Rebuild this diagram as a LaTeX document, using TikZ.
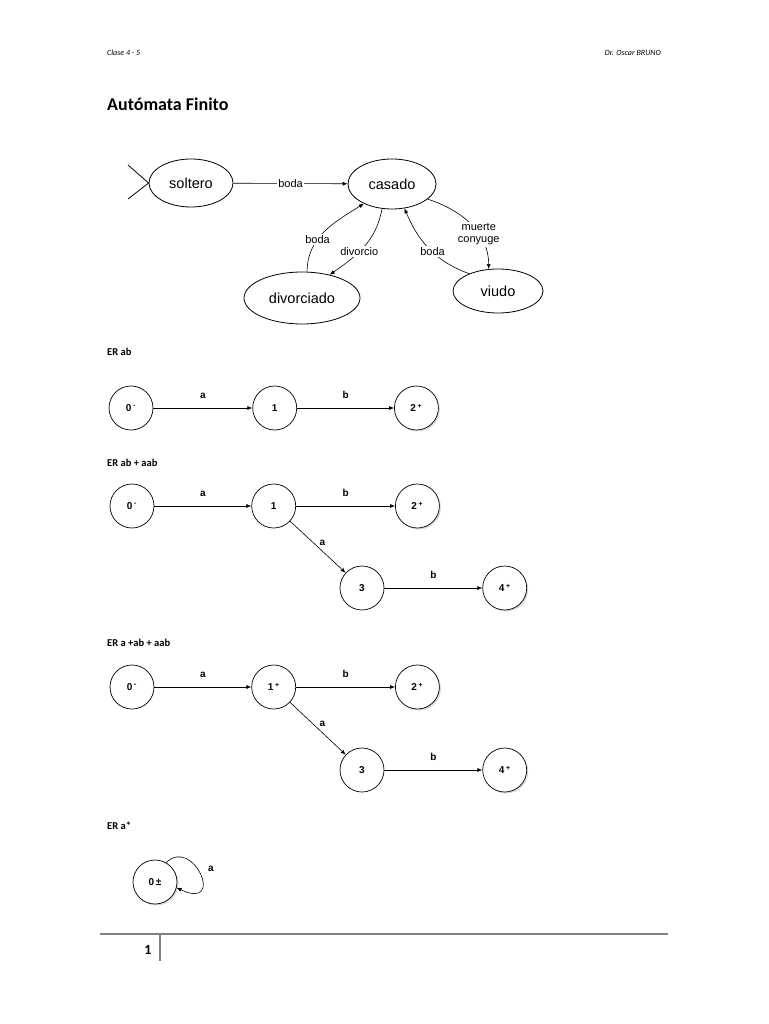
\documentclass[tikz,border=0pt]{standalone}
\usepackage{fontspec}
\setmainfont{Carlito}
\newfontfamily\helv{Liberation Sans}
\usetikzlibrary{positioning,arrows.meta,shapes.geometric,shadows}

\begin{document}
\begin{tikzpicture}[x=1pt, y=1pt,
  estado/.style={ellipse, draw, fill=white, line width=.8pt, inner sep=0pt, font=\helv\fontsize{14.5}{16}\selectfont},
  nodo/.style={circle, draw, fill=white, line width=.7pt, minimum size=44pt, inner sep=0pt, font=\helv\bfseries\fontsize{10}{11}\selectfont},
  final/.style={nodo, drop shadow={shadow xshift=1.5pt, shadow yshift=-1.5pt, opacity=.3}},
  flecha/.style={-{Latex[length=5pt,width=4pt]}, line width=.6pt},
  etq/.style={fill=white, inner sep=1.5pt, align=center, font=\helv\fontsize{11}{12}\selectfont},
  letra/.style={inner sep=0pt, font=\helv\bfseries\fontsize{10}{11}\selectfont},
  titulo/.style={anchor=west, inner sep=0pt, font=\bfseries\fontsize{10.5}{12}\selectfont}
]
  \useasboundingbox (0,0) rectangle (768,-1024);

  % cabecera
  \node[anchor=west, inner sep=0pt, font=\itshape\fontsize{8}{9}\selectfont] (clase) at (107,-53) {Clase 4 - 5};
  \node[anchor=east, inner sep=0pt, font=\itshape\fontsize{8}{9}\selectfont] (autor) at (661,-53) {Dr. Oscar BRUNO};
  \node[anchor=west, inner sep=0pt, font=\bfseries\fontsize{18}{20}\selectfont] (tit) at (107,-104) {Autómata Finito};

  % estado civil
  \node[estado, minimum width=84pt, minimum height=48pt] (sol) at (191,-183) {soltero};
  \node[estado, minimum width=88pt, minimum height=50pt] (cas) at (392,-184) {casado};
  \node[estado, minimum width=116pt, minimum height=52pt] (div) at (302,-298) {divorciado};
  \node[estado, minimum width=90pt, minimum height=44pt] (viu) at (498,-291) {viudo};
  \coordinate (ini1) at (128,-165);
  \coordinate (ini2) at (128,-199);
  \draw[line width=.8pt] (ini1) -- (sol.west) -- (ini2);
  \draw[flecha] (sol) -- node[etq]{boda} (cas);
  \draw[flecha] (div.79) to[out=90, in=212] node[etq, pos=.38]{boda} (cas.-145);
  \draw[flecha] (cas.-112) to[out=-100, in=35] node[etq, pos=.58]{divorcio} (div.40);
  \draw[flecha] (viu.149) to[out=160, in=-67] node[etq, pos=.45]{boda} (cas.-63);
  \draw[flecha] (cas.-23) to[out=-18, in=90] node[etq, pos=.63]{muerte\\conyuge} (viu.113);

  % ER ab
  \node[titulo] (t1) at (107,-352) {ER ab};
  \node[nodo] (p0) at (131,-408) {0\,\textsuperscript{-}};
  \node[nodo, right=99pt of p0] (p1) {1};
  \node[final, right=97pt of p1] (p2) {2\,\textsuperscript{+}};
  \draw[flecha] (p0) -- node[letra, above=9pt]{a} (p1);
  \draw[flecha] (p1) -- node[letra, above=9pt]{b} (p2);

  % ER ab + aab
  \node[titulo] (t2) at (107,-463) {ER ab + aab};
  \node[nodo] (q0) at (132,-506) {0\,\textsuperscript{-}};
  \node[nodo, right=97pt of q0] (q1) {1};
  \node[final, right=99pt of q1] (q2) {2\,\textsuperscript{+}};
  \node[nodo] (q3) at (362,-588) {3};
  \node[final, right=98pt of q3] (q4) {4\,\textsuperscript{+}};
  \draw[flecha] (q0) -- node[letra, above=9pt]{a} (q1);
  \draw[flecha] (q1) -- node[letra, above right=2pt]{a} (q3);
  \draw[flecha] (q1) -- node[letra, above=9pt]{b} (q2);
  \draw[flecha] (q3) -- node[letra, above=9pt]{b} (q4);

  % ER a +ab + aab
  \node[titulo] (t3) at (107,-643) {ER a +ab + aab};
  \node[nodo] (r0) at (132,-687) {0\,\textsuperscript{-}};
  \node[nodo, right=97pt of r0] (r1) {1\,\textsuperscript{+}};
  \node[final, right=99pt of r1] (r2) {2\,\textsuperscript{+}};
  \node[nodo] (r3) at (362,-770) {3};
  \node[final, right=98pt of r3] (r4) {4\,\textsuperscript{+}};
  \draw[flecha] (r0) -- node[letra, above=9pt]{a} (r1);
  \draw[flecha] (r1) -- node[letra, above right=2pt]{a} (r3);
  \draw[flecha] (r1) -- node[letra, above=9pt]{b} (r2);
  \draw[flecha] (r3) -- node[letra, above=9pt]{b} (r4);

  % ER a*
  \node[titulo] (t4) at (107,-826) {ER a*};
  \node[final] (z0) at (155,-882) {0\,±};
  \draw[flecha] (z0.60) .. controls +(45:38pt) and +(-25:55pt) .. (z0.-15);
  \node[letra] (la) at (211,-869) {a};

  % pie
  \coordinate (pie1) at (100,-934);
  \coordinate (pie2) at (668,-934);
  \coordinate (pie3) at (160,-935);
  \coordinate (pie4) at (160,-961);
  \draw[gray, line width=2.5pt] (pie1) -- (pie2);
  \draw[gray, line width=2pt] (pie3) -- (pie4);
  \node[inner sep=0pt, font=\bfseries\fontsize{14}{16}\selectfont] (pag) at (148,-950) {1};
\end{tikzpicture}
\end{document}
